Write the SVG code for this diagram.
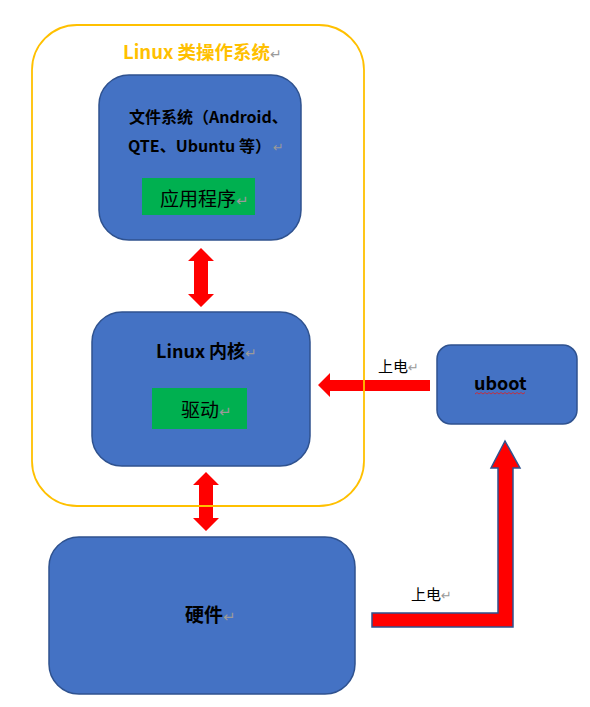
<svg xmlns="http://www.w3.org/2000/svg" width="590" height="707" viewBox="0 0 590 707">
<defs>
<style>
.box{fill:#4472C4;stroke:#2F528F;stroke-width:1.5}
.green{fill:#00B050}
.t{font-family:"Noto Sans CJK SC","Liberation Sans",sans-serif;fill:#000}
.b{font-weight:700}
.ret{fill:#9a9a9a;font-weight:400;font-family:"DejaVu Sans",sans-serif}
.arrow{fill:#FF0000}
</style>
</defs>
<rect width="590" height="707" fill="#fff"/>
<g id="connectors">
<polygon class="arrow" points="201,248 214,261 208,261 208,294 214,294 201,307 188,294 194,294 194,261 188,261"/>
<polygon class="arrow" points="206,472 219,485 213,485 213,518 219,518 206,531 193,518 199,518 199,485 193,485"/>
<polygon class="arrow" points="318,385 330,373 330,380 430,380 430,391 330,391 330,397"/>
<polygon class="arrow" points="372,613 498,613 498,468 491,468 505,441 520,468 513,468 513,627 372,627" stroke="#2F528F" stroke-width="1.5" stroke-linejoin="miter"/>
<text class="t" x="378" y="372" font-size="15">上电<tspan class="ret" font-size="13">↵</tspan></text>
<text class="t" x="411" y="600" font-size="15">上电<tspan class="ret" font-size="13">↵</tspan></text>
</g>
<g id="filesystem">
<rect class="box" x="99" y="75" width="202" height="165" rx="30"/>
<text class="t b" x="129" y="123" font-size="16">文件系统（Android、</text>
<text class="t b" x="128" y="152" font-size="16">QTE、Ubuntu 等）<tspan class="ret" font-size="13" dx="2">↵</tspan></text>
<rect class="green" x="142" y="178" width="113" height="37"/>
<text class="t" x="160" y="206" font-size="19">应用程序<tspan class="ret" font-size="15">↵</tspan></text>
</g>
<g id="kernel">
<rect class="box" x="92" y="312" width="218" height="154" rx="30"/>
<text class="t b" x="156" y="358" font-size="18">Linux 内核<tspan class="ret" font-size="14">↵</tspan></text>
<rect class="green" x="152" y="388" width="95" height="41"/>
<text class="t" x="181" y="417" font-size="19">驱动<tspan class="ret" font-size="15">↵</tspan></text>
</g>
<g id="hardware">
<rect class="box" x="49" y="537" width="306" height="157" rx="30"/>
<text class="t b" x="185" y="622" font-size="19">硬件<tspan class="ret" font-size="15">↵</tspan></text>
</g>
<g id="uboot">
<rect class="box" x="437" y="345" width="140" height="79" rx="14"/>
<text class="t b" x="474" y="390" font-size="18">uboot</text>
<path d="M475,394 l2,-1.5 l2,1.5 l2,-1.5 l2,1.5 l2,-1.5 l2,1.5 l2,-1.5 l2,1.5 l2,-1.5 l2,1.5 l2,-1.5 l2,1.5 l2,-1.5 l2,1.5 l2,-1.5 l2,1.5 l2,-1.5 l2,1.5 l2,-1.5 l2,1.5 l2,-1.5 l2,1.5 l2,-1.5 l2,1.5 l2,-1.5" fill="none" stroke="#e02020" stroke-width="0.8"/>
</g>
<g id="os">
<rect x="32" y="25" width="332" height="481" rx="45" fill="none" stroke="#FFC000" stroke-width="1.8"/>
<text class="t b" x="123" y="59" font-size="18.5" style="fill:#FFC000">Linux 类操作系统<tspan class="ret" font-size="14">↵</tspan></text>
</g>
</svg>
